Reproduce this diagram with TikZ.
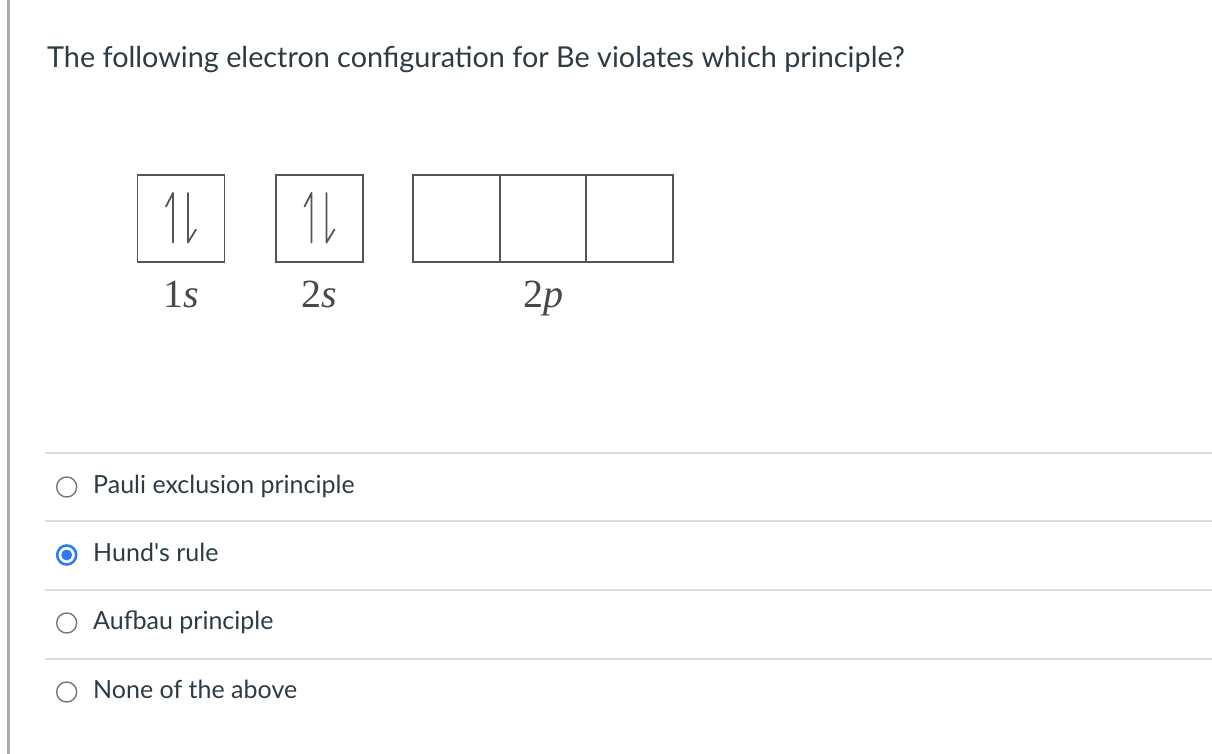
\documentclass[tikz,border=0pt]{standalone}
\usepackage{fontspec}
\setmainfont{Lato}
\newfontfamily\orbfont{Liberation Serif}
\usetikzlibrary{positioning}
\definecolor{inktext}{HTML}{2D3B45}
\definecolor{rulegray}{HTML}{DDDDDD}
\definecolor{radiogray}{HTML}{777777}
\definecolor{pickblue}{HTML}{2D7BF0}
\definecolor{boxgray}{HTML}{555555}

\begin{document}
\begin{tikzpicture}[x=1pt,y=-1pt,
  orb/.style={draw=boxgray,line width=1.6pt,minimum width=87pt,minimum height=87pt,inner sep=0pt},
  orblbl/.style={anchor=base,inner sep=0pt,text=boxgray!85!black,font=\orbfont\fontsize{40}{40}\selectfont},
  elec/.style={draw=boxgray,line width=1.8pt,line cap=round,line join=round},
  opt/.style={anchor=base west,inner sep=0pt,text=inktext,font=\fontsize{25}{29}\selectfont},
  radio/.style={circle,draw=radiogray,line width=1.4pt,minimum size=20pt,inner sep=0pt},
  picked/.style={circle,draw=pickblue,line width=2.6pt,minimum size=19pt,inner sep=0pt,
    path picture={\fill[pickblue] (path picture bounding box.center) circle (5.5pt);}}]
\useasboundingbox (0,0) rectangle (1212,754);
\def\boxy{218.5}
\def\lbly{307}
  \draw[line width=2.5pt,draw=gray!65] (8.7,0) -- (8.7,754);
  \node[anchor=base west,inner sep=0pt,text=inktext,font=\fontsize{28.8}{32}\selectfont] (q) at (47,68)
    {The following electron configuration for Be violates which principle?};

  \node[orb] (b1s) at (181,\boxy) {};
  \node[orb] (b2s) at (319.5,\boxy) {};
  \node[orb] (b2pa) at (456.5,\boxy) {};
  \node[orb] (b2pb) at (543,\boxy) {};
  \node[orb] (b2pc) at (629.5,\boxy) {};
  \node[orblbl] (l1s) at (181,\lbly) {1\textit{s}};
  \node[orblbl] (l2s) at (319.5,\lbly) {2\textit{s}};
  \node[orblbl] (l2p) at (543,\lbly) {2\textit{p}};

  \foreach \b in {b1s,b2s} {
    \draw[elec] ([shift={(-8,24)}]\b.center) -- ([shift={(-8,-25.5)}]\b.center) -- ([shift={(-15,-12)}]\b.center);
    \draw[elec] ([shift={(7,-25.5)}]\b.center) -- ([shift={(7,24)}]\b.center) -- ([shift={(15,11)}]\b.center);
  }

  \foreach \yr/\yc/\lbl [count=\i] in {453/487/Pauli exclusion principle,521/555/Hund\textquotesingle s rule,590/623/Aufbau principle,659/692/None of the above} {
    \draw[rulegray,line width=2pt] (45,\yr) -- (1212,\yr);
    \ifnum\i=2 \def\rstyle{picked}\else\def\rstyle{radio}\fi
    \node[\rstyle] (r\i) at (66.7,\yc) {};
    \node[opt] (o\i) at (93,\yc+6.5) {\lbl};
  }
\end{tikzpicture}
\end{document}
